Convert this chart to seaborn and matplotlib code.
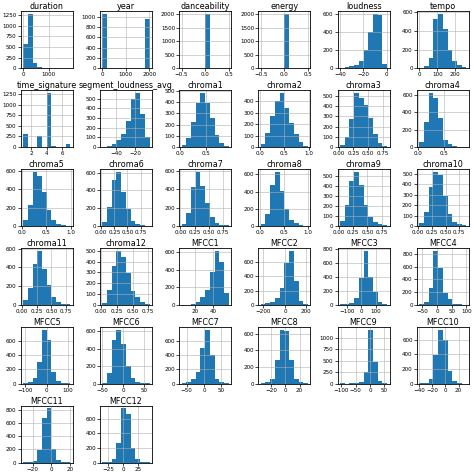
import numpy as np
import pandas as pd
import matplotlib
matplotlib.use("Agg")
import matplotlib.pyplot as plt
from matplotlib.ticker import MaxNLocator
import seaborn as sns

# histogram summaries: (low edge, high edge), 10 bin counts
duration = [(0, 1850), [560, 1270, 130, 30, 10, 5, 2, 1, 1, 1]]
year = [(0, 2011), [1050, 0, 0, 0, 0, 0, 0, 0, 0, 950]]
danceability = [(-0.5, 0.5), [0, 0, 0, 0, 0, 2000, 0, 0, 0, 0]]
energy = [(-0.5, 0.5), [0, 0, 0, 0, 0, 2000, 0, 0, 0, 0]]
loudness = [(-40, 0.5), [5, 10, 20, 40, 80, 200, 400, 600, 590, 50]]
tempo = [(0, 262), [5, 20, 110, 530, 580, 420, 200, 80, 30, 10]]
time_signature = [(1, 7), [320, 0, 0, 250, 0, 1280, 20, 0, 0, 70]]
segment_loudness_avg = [(-55, -5), [5, 10, 30, 70, 140, 270, 500, 560, 340, 100]]
chroma1 = [(0.02, 0.93), [20, 80, 220, 390, 480, 390, 260, 110, 40, 10]]
chroma2 = [(0.02, 0.98), [30, 120, 270, 400, 470, 340, 210, 110, 40, 10]]
chroma3 = [(0.02, 0.83), [20, 100, 270, 530, 480, 410, 280, 130, 40, 10]]
chroma4 = [(0.02, 0.95), [60, 290, 620, 560, 330, 80, 30, 10, 5, 2]]
chroma5 = [(0.03, 0.98), [60, 230, 590, 540, 370, 170, 70, 20, 5, 2]]
chroma6 = [(0.02, 0.92), [40, 210, 520, 610, 380, 190, 60, 20, 5, 2]]
chroma7 = [(0.02, 0.85), [20, 140, 420, 590, 440, 250, 100, 30, 10, 5]]
chroma8 = [(0.02, 1.0), [20, 140, 480, 630, 410, 200, 70, 30, 5, 2]]
chroma9 = [(0.02, 0.85), [50, 210, 450, 540, 410, 210, 90, 40, 15, 5]]
chroma10 = [(0.02, 0.88), [30, 130, 370, 520, 490, 290, 110, 40, 15, 5]]
chroma11 = [(0.02, 0.82), [50, 180, 440, 580, 380, 210, 80, 30, 10, 5]]
chroma12 = [(0.02, 0.77), [20, 140, 360, 500, 440, 290, 130, 70, 30, 10]]
MFCC1 = [(5, 57), [1, 3, 12, 35, 95, 165, 380, 620, 490, 130]]
MFCC2 = [(-225, 215), [10, 20, 45, 100, 230, 590, 760, 330, 50, 5]]
MFCC3 = [(-150, 180), [5, 10, 30, 100, 390, 780, 400, 180, 40, 10]]
MFCC4 = [(-60, 100), [10, 40, 260, 850, 580, 180, 90, 20, 5, 2]]
MFCC5 = [(-110, 110), [5, 20, 80, 300, 760, 610, 170, 40, 10, 3]]
MFCC6 = [(-50, 62), [10, 120, 500, 620, 460, 200, 70, 20, 5, 2]]
MFCC7 = [(-65, 72), [5, 20, 60, 160, 500, 760, 400, 70, 20, 5]]
MFCC8 = [(-35, 32), [5, 15, 60, 280, 650, 630, 280, 60, 20, 5]]
MFCC9 = [(-105, 60), [5, 3, 5, 10, 30, 250, 1180, 470, 50, 5]]
MFCC10 = [(-40, 32), [3, 10, 60, 390, 740, 600, 170, 30, 5, 2]]
MFCC11 = [(-30, 20), [3, 10, 30, 190, 680, 820, 210, 40, 10, 3]]
MFCC12 = [(-35, 45), [3, 10, 50, 270, 740, 670, 200, 50, 10, 3]]

columns = {
    "duration": duration, "year": year, "danceability": danceability, "energy": energy,
    "loudness": loudness, "tempo": tempo, "time_signature": time_signature,
    "segment_loudness_avg": segment_loudness_avg,
    "chroma1": chroma1, "chroma2": chroma2, "chroma3": chroma3, "chroma4": chroma4,
    "chroma5": chroma5, "chroma6": chroma6, "chroma7": chroma7, "chroma8": chroma8,
    "chroma9": chroma9, "chroma10": chroma10, "chroma11": chroma11, "chroma12": chroma12,
    "MFCC1": MFCC1, "MFCC2": MFCC2, "MFCC3": MFCC3, "MFCC4": MFCC4,
    "MFCC5": MFCC5, "MFCC6": MFCC6, "MFCC7": MFCC7, "MFCC8": MFCC8,
    "MFCC9": MFCC9, "MFCC10": MFCC10, "MFCC11": MFCC11, "MFCC12": MFCC12,
}

plt.rcParams.update({"font.size": 5.5, "xtick.labelsize": 4.1, "ytick.labelsize": 4.1,
                     "axes.linewidth": 0.6, "xtick.major.width": 0.5, "ytick.major.width": 0.5,
                     "xtick.major.size": 2, "ytick.major.size": 2})

fig, axs = plt.subplots(6, 6, figsize=(4.74, 4.74), dpi=100)
for ax, (name, (rng, counts)) in zip(axs.flat, columns.items()):
    edges = np.linspace(rng[0], rng[1], len(counts) + 1)
    df = pd.DataFrame({"value": (edges[:-1] + edges[1:]) / 2, "count": counts})
    sns.histplot(data=df, x="value", weights="count", bins=len(counts), binrange=rng,
                 ax=ax, color="#1f77b4", alpha=1, edgecolor="none", linewidth=0)
    ax.set_title(name, fontsize=5.8, pad=1.5)
    ax.set_xlabel("")
    ax.set_ylabel("")
    ax.grid(True, color="#b0b0b0", linewidth=0.4)
    ax.xaxis.set_major_locator(MaxNLocator(nbins=4, steps=[1, 2, 2.5, 5, 10]))
    ax.yaxis.set_major_locator(MaxNLocator(nbins=6, steps=[1, 2, 2.5, 5, 10]))
    ax.tick_params(pad=1)
for ax in axs.flat[len(columns):]:
    ax.set_visible(False)

plt.tight_layout(pad=0.3, h_pad=0.5, w_pad=0.6)
plt.savefig("out.png", dpi=100)
